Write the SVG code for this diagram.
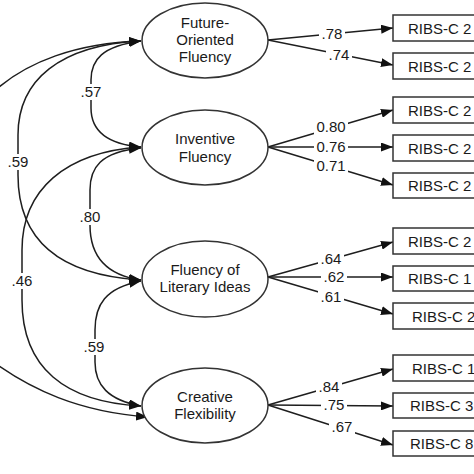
<svg xmlns="http://www.w3.org/2000/svg" width="474" height="474" viewBox="0 0 474 474">
<defs>
<style>
.ln{fill:none;stroke:#1e1e1e;stroke-width:1.5}
.el{fill:#fff;stroke:#333;stroke-width:1.5}
.bx{fill:#fff;stroke:#333;stroke-width:1.5}
.bg{fill:#fff}
text{font-family:"Liberation Sans",Arial,sans-serif;font-size:15px;fill:#1a1a1a;text-anchor:middle}
.bt{text-anchor:start}
</style>
<marker id="ah" viewBox="0 0 12 9" refX="12" refY="4.5" markerWidth="12" markerHeight="9" markerUnits="userSpaceOnUse" orient="auto-start-reverse">
<path d="M0,0 L12,4.5 L0,9 z" fill="#111"/>
</marker>
</defs>
<rect width="474" height="474" fill="#fff"/>

<g id="connectors">
<!-- covariances -->
<path class="ln" d="M141,41 C80,43 25,60 -12,97" marker-start="url(#ah)"/>
<path class="ln" d="M-12,358 C30,390 80,412 148,417" marker-end="url(#ah)"/>
<path class="ln" d="M141,41 C60,45 18,80 18,135 L18,175 C18,240 60,275 141,280" marker-start="url(#ah)" marker-end="url(#ah)"/>
<path class="ln" d="M141,147 C65,152 22,190 22,250 L22,300 C22,368 65,402 141,406" marker-start="url(#ah)" marker-end="url(#ah)"/>
<path class="ln" d="M141,41 C102,46 91,60 91,80 L91,108 C91,130 105,144 141,147" marker-start="url(#ah)" marker-end="url(#ah)"/>
<path class="ln" d="M141,148 C100,152 90,168 90,190 L90,225 C90,255 105,275 141,280" marker-start="url(#ah)" marker-end="url(#ah)"/>
<path class="ln" d="M141,281 C105,288 95,305 95,330 L95,362 C95,385 108,400 141,406" marker-start="url(#ah)" marker-end="url(#ah)"/>
<!-- loadings -->
<path class="ln" d="M268,40 L393,28" marker-end="url(#ah)"/>
<path class="ln" d="M268,40 L393,65" marker-end="url(#ah)"/>
<path class="ln" d="M268,147 L393,110" marker-end="url(#ah)"/>
<path class="ln" d="M268,147 L393,147" marker-end="url(#ah)"/>
<path class="ln" d="M268,147 L393,185" marker-end="url(#ah)"/>
<path class="ln" d="M268,277 L393,242" marker-end="url(#ah)"/>
<path class="ln" d="M268,277 L393,277" marker-end="url(#ah)"/>
<path class="ln" d="M268,277 L393,314" marker-end="url(#ah)"/>
<path class="ln" d="M268,405 L393,369" marker-end="url(#ah)"/>
<path class="ln" d="M268,405 L393,406" marker-end="url(#ah)"/>
<path class="ln" d="M268,405 L393,445" marker-end="url(#ah)"/>
<!-- label backgrounds -->
<rect class="bg" x="79" y="84" width="24" height="16"/>
<rect class="bg" x="6" y="154" width="24" height="16"/>
<rect class="bg" x="78" y="209" width="24" height="16"/>
<rect class="bg" x="10" y="273" width="24" height="16"/>
<rect class="bg" x="82" y="339" width="24" height="16"/>
<rect class="bg" x="319" y="26" width="26" height="16"/>
<rect class="bg" x="326" y="47" width="26" height="16"/>
<rect class="bg" x="314" y="119" width="34" height="16"/>
<rect class="bg" x="314" y="139" width="34" height="16"/>
<rect class="bg" x="314" y="158" width="34" height="16"/>
<rect class="bg" x="318" y="251" width="26" height="16"/>
<rect class="bg" x="321" y="269" width="26" height="16"/>
<rect class="bg" x="318" y="289" width="26" height="16"/>
<rect class="bg" x="316" y="379" width="26" height="16"/>
<rect class="bg" x="321" y="397" width="26" height="16"/>
<rect class="bg" x="329" y="419" width="26" height="16"/>
<!-- labels -->
<text x="91" y="97">.57</text>
<text x="18" y="167">.59</text>
<text x="90" y="222">.80</text>
<text x="22" y="286">.46</text>
<text x="94" y="352">.59</text>
<text x="332" y="39">.78</text>
<text x="339" y="60">.74</text>
<text x="331" y="132">0.80</text>
<text x="331" y="152">0.76</text>
<text x="331" y="171">0.71</text>
<text x="331" y="264">.64</text>
<text x="334" y="282">.62</text>
<text x="331" y="302">.61</text>
<text x="329" y="392">.84</text>
<text x="334" y="410">.75</text>
<text x="342" y="432">.67</text>
</g>

<g id="future-oriented-fluency">
<ellipse class="el" cx="205" cy="40.5" rx="63" ry="37.5"/>
<text x="205" y="28">Future-</text>
<text x="205" y="45">Oriented</text>
<text x="205" y="62">Fluency</text>
</g>
<g id="inventive-fluency">
<ellipse class="el" cx="205" cy="147.5" rx="63" ry="37.5"/>
<text x="205" y="144">Inventive</text>
<text x="205" y="162">Fluency</text>
</g>
<g id="fluency-literary-ideas">
<ellipse class="el" cx="205" cy="279" rx="63" ry="38"/>
<text x="205" y="275">Fluency of</text>
<text x="205" y="292">Literary Ideas</text>
</g>
<g id="creative-flexibility">
<ellipse class="el" cx="205" cy="405.5" rx="63" ry="37.5"/>
<text x="205" y="402">Creative</text>
<text x="205" y="419">Flexibility</text>
</g>

<g id="box1"><rect class="bx" x="393" y="15" width="102" height="26"/><text class="bt" x="408" y="33.5">RIBS-C 2</text></g>
<g id="box2"><rect class="bx" x="393" y="53" width="102" height="26"/><text class="bt" x="408" y="71.5">RIBS-C 2</text></g>
<g id="box3"><rect class="bx" x="393" y="97" width="102" height="26"/><text class="bt" x="408" y="115.5">RIBS-C 2</text></g>
<g id="box4"><rect class="bx" x="393" y="135" width="102" height="26"/><text class="bt" x="408" y="153.5">RIBS-C 2</text></g>
<g id="box5"><rect class="bx" x="393" y="173" width="102" height="25"/><text class="bt" x="408" y="191">RIBS-C 2</text></g>
<g id="box6"><rect class="bx" x="393" y="228" width="102" height="26"/><text class="bt" x="408" y="246.5">RIBS-C 2</text></g>
<g id="box7"><rect class="bx" x="393" y="266" width="102" height="25"/><text class="bt" x="408" y="284">RIBS-C 1</text></g>
<g id="box8"><rect class="bx" x="393" y="303" width="102" height="26"/><text class="bt" x="412" y="321.5">RIBS-C 2</text></g>
<g id="box9"><rect class="bx" x="393" y="355" width="102" height="26"/><text class="bt" x="412" y="373.5">RIBS-C 1</text></g>
<g id="box10"><rect class="bx" x="393" y="393" width="102" height="25"/><text class="bt" x="410" y="411">RIBS-C 3</text></g>
<g id="box11"><rect class="bx" x="393" y="431" width="102" height="25"/><text class="bt" x="410" y="449">RIBS-C 8</text></g>
</svg>
